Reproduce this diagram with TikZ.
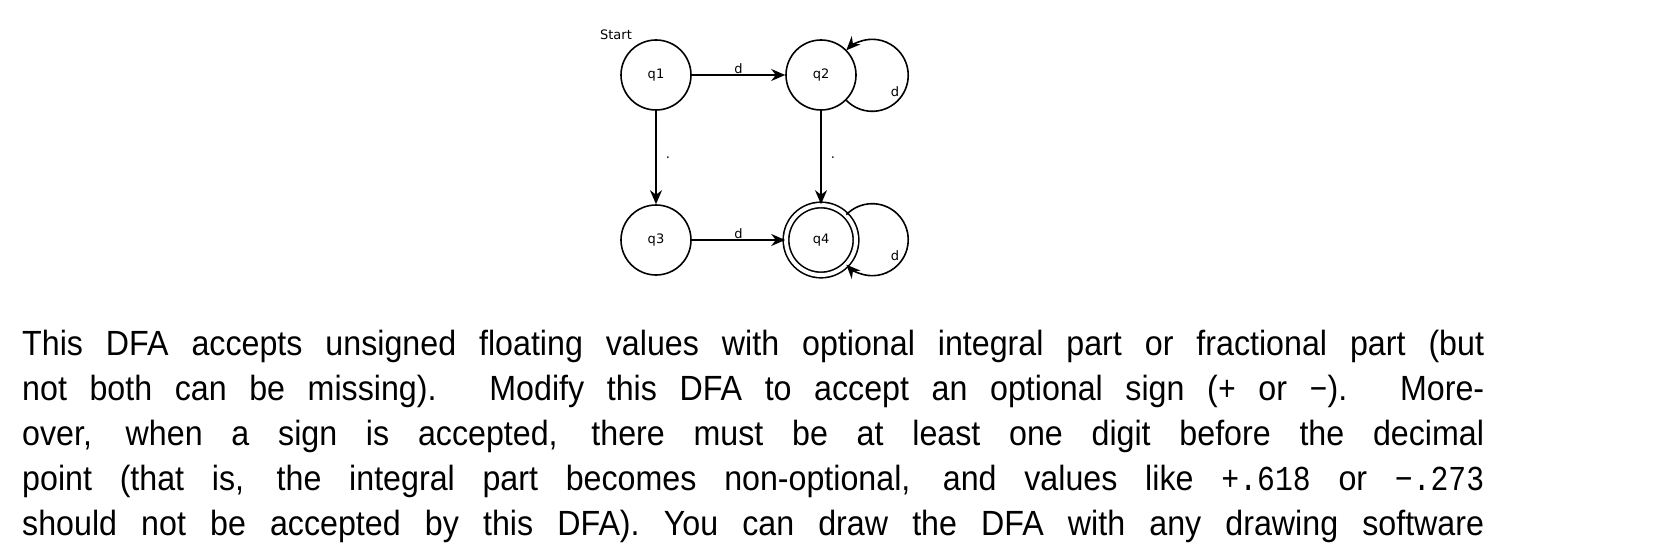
\documentclass[tikz,border=0pt]{standalone}
\usepackage{fontspec}
\setmainfont{Liberation Sans}[FakeStretch=0.92]
\newfontfamily\dejavu{DejaVu Sans}
\newfontfamily\monof{Liberation Mono}[FakeStretch=0.85]
\usetikzlibrary{arrows.meta}
\begin{document}
\begin{tikzpicture}[x=1pt,y=1pt,
  st/.style={circle,draw,line width=1.6pt,minimum size=70pt,inner sep=0pt,font=\dejavu\fontsize{13}{14}\selectfont},
  edge/.style={line width=1.6pt,-{Stealth[length=14pt,width=12pt]}},
  lbl/.style={font=\dejavu\fontsize{13}{14}\selectfont,inner sep=1pt}]
\node[st] (q1) at (656,467) {q1};
\node[st] (q2) at (821,467) {q2};
\node[st] (q3) at (656,302) {q3};
\node[st,double,double distance=4pt] (q4) at (821,302) {q4};
\node[lbl] (start) at (616,507) {Start};
\draw[edge] (q1) -- node[lbl,above]{d} (q2);
\draw[edge] (q3) -- node[lbl,above]{d} (q4);
\draw[edge] (q1) -- node[lbl,right=8pt]{.} (q3);
\draw[edge] (q2) -- node[lbl,right=8pt]{.} (q4);
\draw[edge] (q2.-45) arc[start angle=-136,end angle=136,radius=36];
\node[lbl] (l2) at (895,450) {d};
\draw[edge] (q4.45) arc[start angle=136,end angle=-136,radius=36];
\node[lbl] (l4) at (895,286) {d};
\node[anchor=north west,text width=1462pt,align=justify,inner sep=0pt,font=\fontsize{35}{45}\selectfont] (txt) at (22,212)
{\parfillskip=0pt This DFA accepts unsigned floating values with optional integral part or fractional part (but not both can be missing). Modify this DFA to accept an optional sign ({\monof+} or {\monof−}). Moreover, when a sign is accepted, there must be at least one digit before the decimal point (that is, the integral part becomes non-optional, and values like {\monof+.618} or {\monof−.273} should not be accepted by this DFA). You can draw the DFA with any drawing software\par};
\pgfresetboundingbox
\useasboundingbox (0,0) rectangle (1672,542);
\end{tikzpicture}
\end{document}
